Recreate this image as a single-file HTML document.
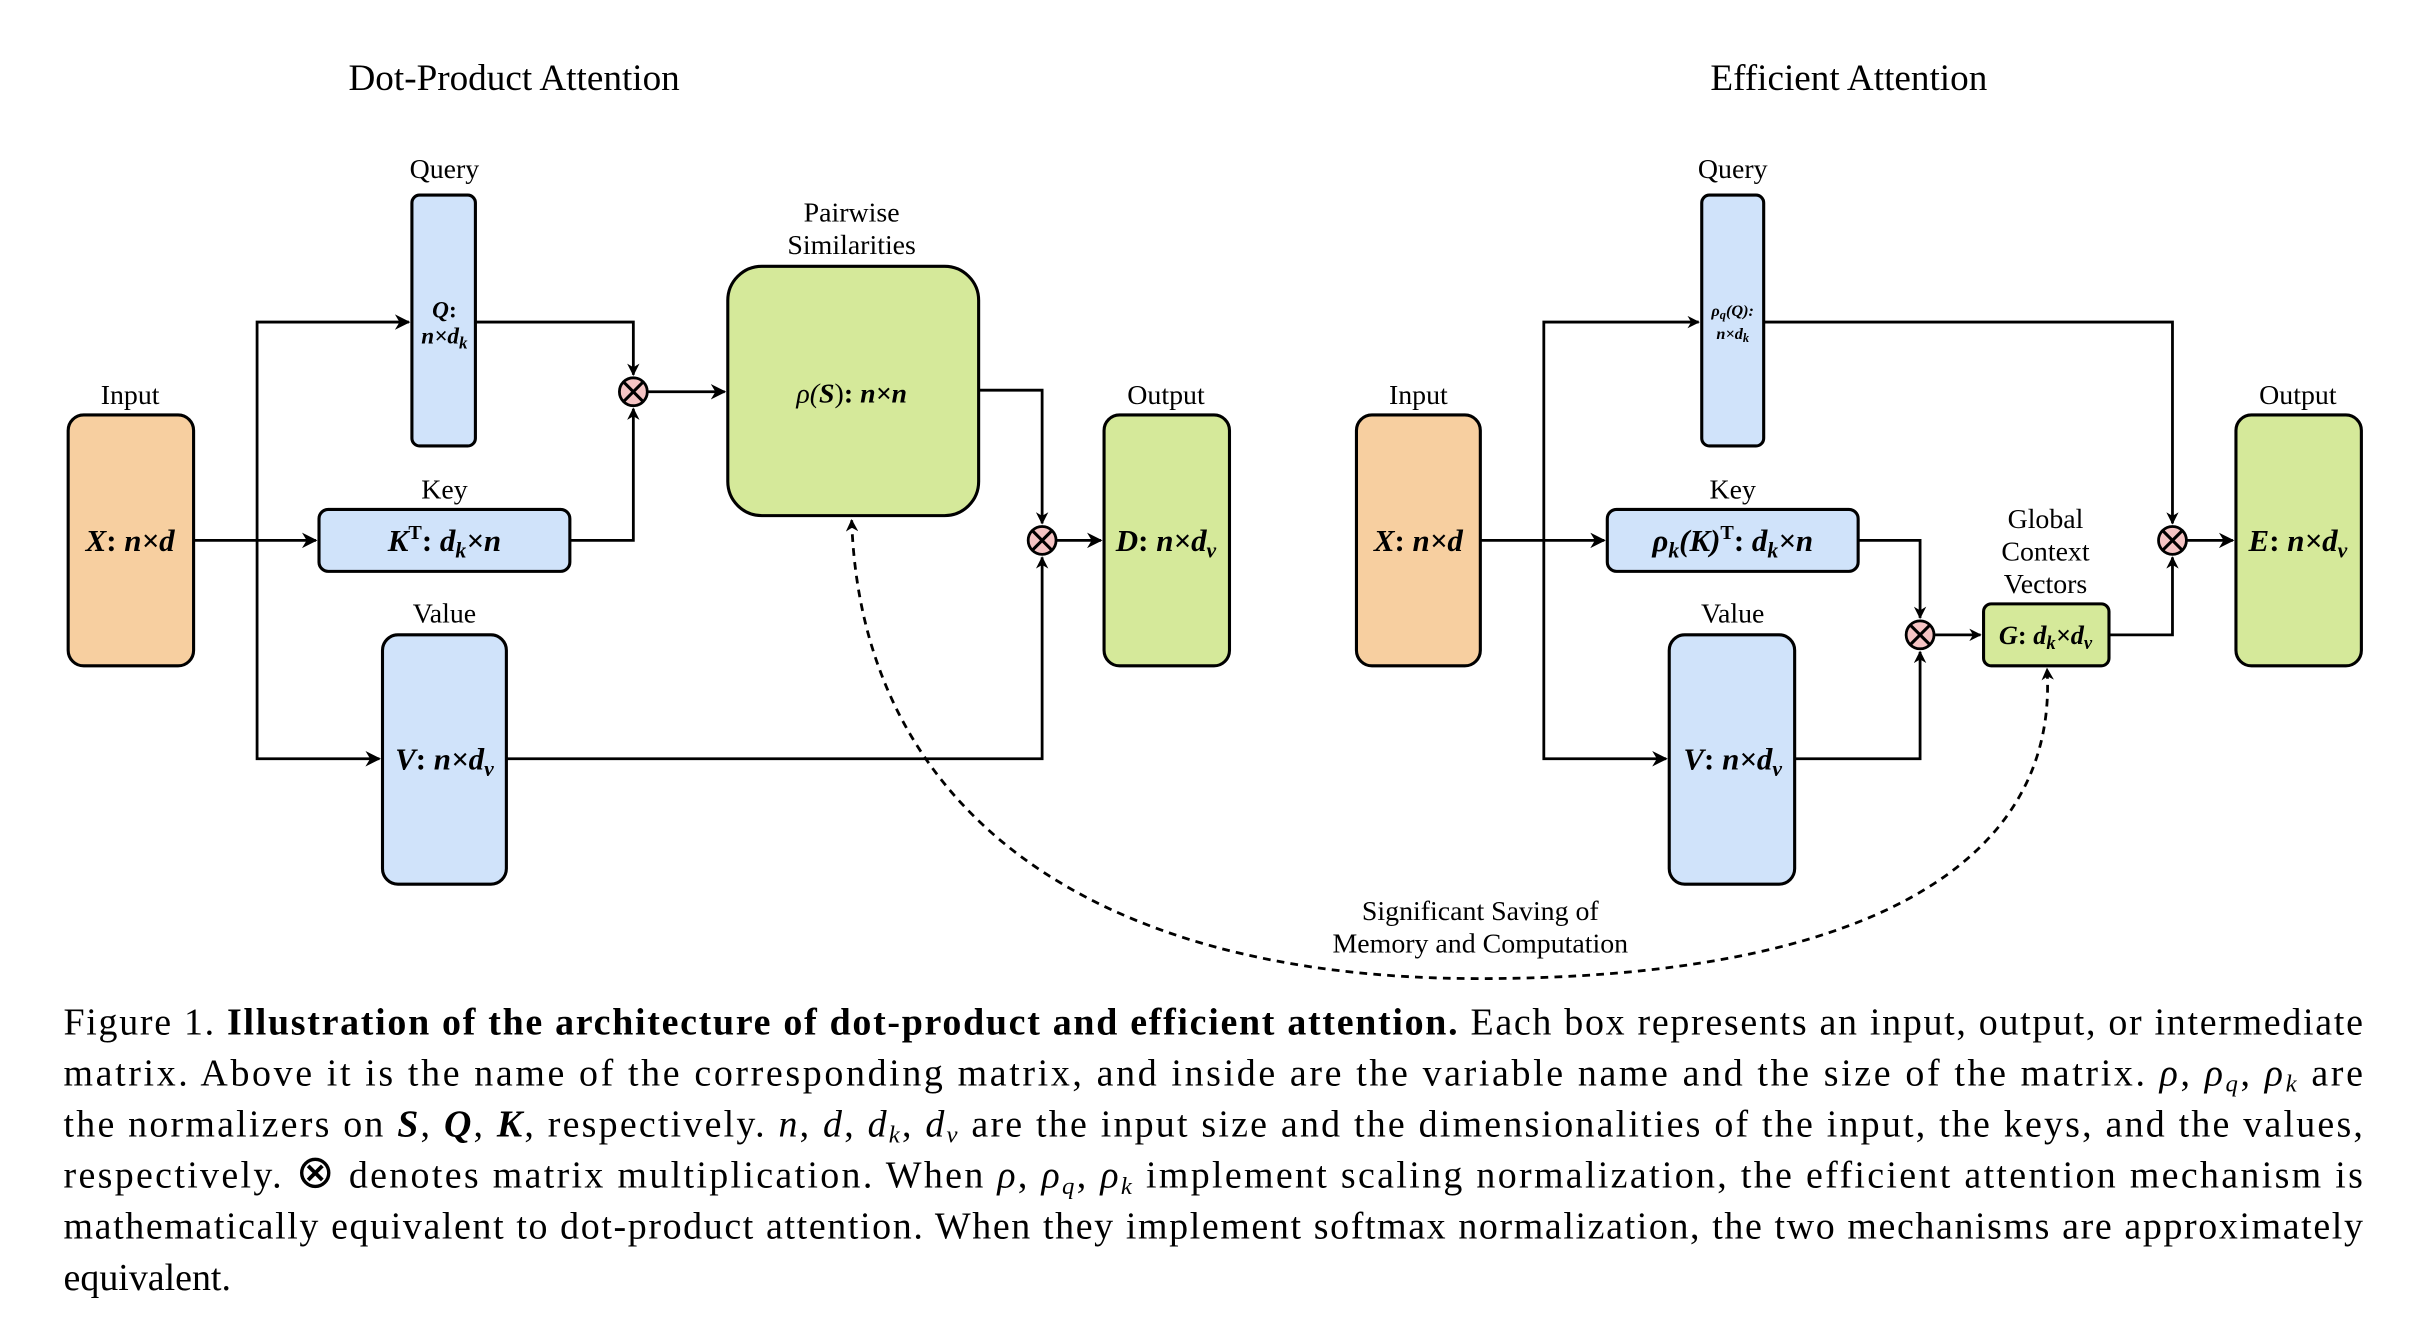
<!DOCTYPE html>
<html><head><meta charset="utf-8"><style>
html,body{margin:0;padding:0;background:#fff;}
svg{display:block;}
text{font-family:"Liberation Serif",serif;}
.lbl{font-size:18px;text-anchor:middle;}
.bx{font-size:20px;font-weight:bold;font-style:italic;text-anchor:middle;}
.cap{font-size:24.5px;}
</style></head><body>
<svg width="2428" height="1340" viewBox="0 0 1568 865.4" xmlns="http://www.w3.org/2000/svg">
<defs>
<marker id="ar" viewBox="0 0 10 10" refX="9" refY="5" markerWidth="8" markerHeight="8" orient="auto-start-reverse" markerUnits="userSpaceOnUse">
<path d="M0,0 L10,5 L0,10 L3,5 z" fill="#000"/></marker>
<marker id="ar2" viewBox="0 0 10 10" refX="9" refY="5" markerWidth="10" markerHeight="10" orient="auto-start-reverse" markerUnits="userSpaceOnUse">
<path d="M0,0 L10,5 L0,10 L3,5 z" fill="#000"/></marker>
</defs>
<g stroke="#000" stroke-width="1.8" fill="none">
<polyline points="125,349 204,349" marker-end="url(#ar2)"/>
<polyline points="166,349 166,208 264,208" marker-end="url(#ar2)"/>
<polyline points="166,349 166,490 245,490" marker-end="url(#ar2)"/>
<polyline points="307,208 409,208 409,242" marker-end="url(#ar)"/>
<polyline points="368,349 409,349 409,264" marker-end="url(#ar)"/>
<polyline points="418,253 468,253" marker-end="url(#ar2)"/>
<polyline points="632,252 673,252 673,338" marker-end="url(#ar)"/>
<polyline points="327,490 673,490 673,360" marker-end="url(#ar)"/>
<polyline points="682,349 711,349" marker-end="url(#ar2)"/>
<polyline points="956,349 1036,349" marker-end="url(#ar2)"/>
<polyline points="997,349 997,208 1097,208" marker-end="url(#ar)"/>
<polyline points="997,349 997,490 1076,490" marker-end="url(#ar2)"/>
<polyline points="1139,208 1403,208 1403,338" marker-end="url(#ar)"/>
<polyline points="1200,349 1240,349 1240,399" marker-end="url(#ar)"/>
<polyline points="1159,490 1240,490 1240,421" marker-end="url(#ar)"/>
<polyline points="1249,410 1279,410" marker-end="url(#ar)"/>
<polyline points="1362,410 1403,410 1403,360" marker-end="url(#ar)"/>
<polyline points="1412,349 1442,349" marker-end="url(#ar2)"/>
<path d="M550,336 C556,520 700,632 955,632 C1200,632 1330,560 1322,432" stroke-dasharray="5,4" marker-start="url(#ar)" marker-end="url(#ar)"/>
</g>
<g stroke="#000" stroke-width="2">
<rect x="44" y="268" width="81" height="162" rx="10" fill="#f7cfa0"/>
<rect x="266" y="126" width="41" height="162" rx="5" fill="#d0e3fa"/>
<rect x="206" y="329" width="162" height="40" rx="6" fill="#d0e3fa"/>
<rect x="247" y="410" width="80" height="161" rx="10" fill="#d0e3fa"/>
<rect x="470" y="172" width="162" height="161" rx="22" fill="#d5e99a"/>
<rect x="713" y="268" width="81" height="162" rx="10" fill="#d5e99a"/>
<rect x="876" y="268" width="80" height="162" rx="10" fill="#f7cfa0"/>
<rect x="1099" y="126" width="40" height="162" rx="5" fill="#d0e3fa"/>
<rect x="1038" y="329" width="162" height="40" rx="6" fill="#d0e3fa"/>
<rect x="1078" y="410" width="81" height="161" rx="10" fill="#d0e3fa"/>
<rect x="1281" y="390" width="81" height="40" rx="5" fill="#d5e99a"/>
<rect x="1444" y="268" width="81" height="162" rx="10" fill="#d5e99a"/>
</g>
<g stroke="#000" stroke-width="1.8" fill="#f5c4c4">
<circle cx="409" cy="253" r="9"/><circle cx="673" cy="349" r="9"/>
<circle cx="1240" cy="410" r="9"/><circle cx="1403" cy="349" r="9"/>
</g>
<g stroke="#000" stroke-width="2">
<path d="M402.6,246.6 L415.4,259.4 M415.4,246.6 L402.6,259.4"/>
<path d="M666.6,342.6 L679.4,355.4 M679.4,342.6 L666.6,355.4"/>
<path d="M1233.6,403.6 L1246.4,416.4 M1246.4,403.6 L1233.6,416.4"/>
<path d="M1396.6,342.6 L1409.4,355.4 M1409.4,342.6 L1396.6,355.4"/>
</g>
<text x="332" y="58" font-size="24" text-anchor="middle">Dot-Product Attention</text>
<text x="1194" y="58" font-size="24" text-anchor="middle">Efficient Attention</text>
<text class="lbl" x="84" y="261">Input</text>
<text class="lbl" x="287" y="115">Query</text>
<text class="lbl" x="287" y="322">Key</text>
<text class="lbl" x="287" y="402">Value</text>
<text class="lbl" x="550" y="143">Pairwise</text>
<text class="lbl" x="550" y="164">Similarities</text>
<text class="lbl" x="753" y="261">Output</text>
<text class="lbl" x="916" y="261">Input</text>
<text class="lbl" x="1119" y="115">Query</text>
<text class="lbl" x="1119" y="322">Key</text>
<text class="lbl" x="1119" y="402">Value</text>
<text class="lbl" x="1484" y="261">Output</text>
<text class="lbl" x="1321" y="341">Global</text>
<text class="lbl" x="1321" y="362">Context</text>
<text class="lbl" x="1321" y="383">Vectors</text>
<text class="lbl" x="956" y="594">Significant Saving of</text>
<text class="lbl" x="956" y="615">Memory and Computation</text>
<text class="bx" x="84" y="356">X<tspan font-style="normal">:</tspan> n×d</text>
<text class="bx" x="287" y="205" style="font-size:15px">Q<tspan font-style="normal">:</tspan></text>
<text class="bx" x="287" y="222" style="font-size:15px">n×d<tspan font-size="11" dy="3">k</tspan></text>
<text class="bx" x="287" y="356">K<tspan font-style="normal" font-size="13" dy="-8">T</tspan><tspan font-style="normal" dy="8">:</tspan> d<tspan font-size="14" dy="4">k</tspan><tspan dy="-4">×n</tspan></text>
<text class="bx" x="287" y="497">V<tspan font-style="normal">:</tspan> n×d<tspan font-size="14" dy="4">v</tspan></text>
<text class="bx" x="550" y="260" style="font-size:18px"><tspan font-weight="normal">ρ(</tspan>S<tspan font-weight="normal" font-style="normal">)</tspan><tspan font-style="normal">:</tspan> n×n</text>
<text class="bx" x="753" y="356">D<tspan font-style="normal">:</tspan> n×d<tspan font-size="14" dy="4">v</tspan></text>
<text class="bx" x="916" y="356">X<tspan font-style="normal">:</tspan> n×d</text>
<text class="bx" x="1119" y="204" style="font-size:10.5px">ρ<tspan font-size="8" dy="2">q</tspan><tspan dy="-2">(Q):</tspan></text>
<text class="bx" x="1119" y="219" style="font-size:10.5px">n×d<tspan font-size="8" dy="2">k</tspan></text>
<text class="bx" x="1119" y="356">ρ<tspan font-size="14" dy="4">k</tspan><tspan dy="-4">(K)</tspan><tspan font-style="normal" font-size="13" dy="-8">T</tspan><tspan font-style="normal" dy="8">:</tspan> d<tspan font-size="14" dy="4">k</tspan><tspan dy="-4">×n</tspan></text>
<text class="bx" x="1119" y="497">V<tspan font-style="normal">:</tspan> n×d<tspan font-size="14" dy="4">v</tspan></text>
<text class="bx" x="1321" y="416" style="font-size:17px">G<tspan font-style="normal">:</tspan> d<tspan font-size="12" dy="3">k</tspan><tspan dy="-3">×d</tspan><tspan font-size="12" dy="3">v</tspan></text>
<text class="bx" x="1484" y="356">E<tspan font-style="normal">:</tspan> n×d<tspan font-size="14" dy="4">v</tspan></text>
<text class="cap" x="41" y="668" textLength="1485" lengthAdjust="spacing">Figure 1. <tspan font-weight="bold">Illustration of the architecture of dot-product and efficient attention.</tspan> Each box represents an input, output, or intermediate</text>
<text class="cap" x="41" y="701" textLength="1485" lengthAdjust="spacing">matrix.  Above it is the name of the corresponding matrix, and inside are the variable name and the size of the matrix.  <tspan font-style="italic">ρ</tspan>, <tspan font-style="italic">ρ<tspan font-size="16" dy="4">q</tspan></tspan><tspan dy="-4">,</tspan> <tspan font-style="italic">ρ<tspan font-size="16" dy="4">k</tspan></tspan><tspan dy="-4"> are</tspan></text>
<text class="cap" x="41" y="734" textLength="1485" lengthAdjust="spacing">the normalizers on <tspan font-weight="bold" font-style="italic">S</tspan>, <tspan font-weight="bold" font-style="italic">Q</tspan>, <tspan font-weight="bold" font-style="italic">K</tspan>, respectively.  <tspan font-style="italic">n</tspan>, <tspan font-style="italic">d</tspan>, <tspan font-style="italic">d<tspan font-size="16" dy="4">k</tspan></tspan><tspan dy="-4">,</tspan> <tspan font-style="italic">d<tspan font-size="16" dy="4">v</tspan></tspan><tspan dy="-4"> are the input size and the dimensionalities of the input, the keys, and the values,</tspan></text>
<text class="cap" x="41" y="767" textLength="1485" lengthAdjust="spacing">respectively.  <tspan font-size="30">⊗</tspan> denotes matrix multiplication.  When <tspan font-style="italic">ρ</tspan>, <tspan font-style="italic">ρ<tspan font-size="16" dy="4">q</tspan></tspan><tspan dy="-4">,</tspan> <tspan font-style="italic">ρ<tspan font-size="16" dy="4">k</tspan></tspan><tspan dy="-4"> implement scaling normalization, the efficient attention mechanism is</tspan></text>
<text class="cap" x="41" y="800" textLength="1485" lengthAdjust="spacing">mathematically equivalent to dot-product attention. When they implement softmax normalization, the two mechanisms are approximately</text>
<text class="cap" x="41" y="833">equivalent.</text>
</svg>
</body></html>
